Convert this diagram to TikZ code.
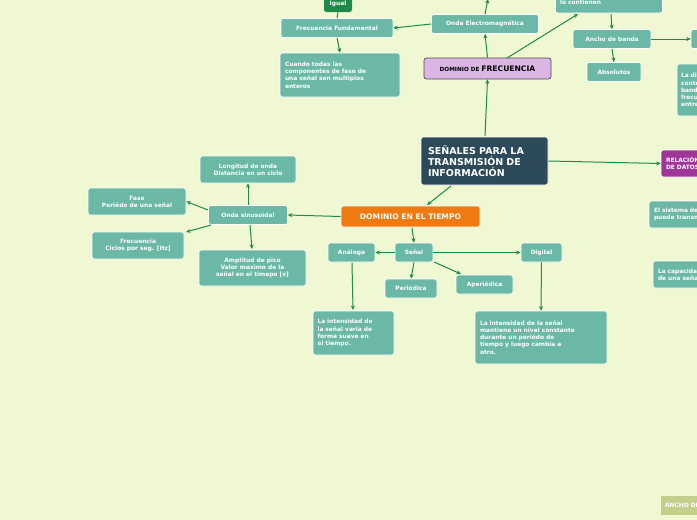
\documentclass[tikz,border=0pt]{standalone}
\usepackage{fontspec}
\setmainfont{DejaVu Sans}
\usetikzlibrary{arrows.meta}
\definecolor{bg}{HTML}{EFF8D2}
\definecolor{teal}{HTML}{6BB8A6}
\definecolor{arr}{HTML}{1E8A4A}
\definecolor{mainc}{HTML}{2D4A5A}
\definecolor{orng}{HTML}{EF7A12}
\definecolor{purp}{HTML}{DBB5E3}
\definecolor{mag}{HTML}{A0359A}
\definecolor{olive}{HTML}{C5CF8B}
\tikzset{
 bx/.style={draw=white,line width=0.6pt,fill=teal,rounded corners=2.5pt,text=white,font=\bfseries\fontsize{5.9}{7.2}\selectfont,inner sep=0pt,align=center},
 ar/.style={draw=arr,line width=1pt,-{Stealth[length=4.5pt,width=4pt]}},
 ln/.style={draw=arr,line width=1pt},
}
\newcommand{\bxn}[6]{\node[bx,#6,minimum width=#4pt,minimum height=#5pt] (#1) at (#2,#3)}
\begin{document}
\begin{tikzpicture}[x=1pt,y=-1pt]
\useasboundingbox (0,0) rectangle (697,520);
\clip (0,0) rectangle (697,520);
\fill[bg] (0,0) rectangle (697,520);
% top area
\bxn{igual}{338}{4}{28}{16}{fill=arr,draw=none}{Igual};
\bxn{ff}{337}{28}{112}{19}{}{Frecuencia Fundamental};
\bxn{cuando}{340}{75}{120}{44}{text width=110pt,align=left}{Cuando todas las\\componentes de fase de\\una señal son multiplos\\enteros};
\bxn{oe}{485}{24}{107}{19}{}{Onda Electromagnética};
\coordinate (oetop) at (488,-1);
\bxn{lc}{609}{-1}{107}{28}{text width=98pt,align=left}{Componentes que\\lo contienen};
\bxn{ab}{612}{39}{78}{19}{}{Ancho de banda};
\bxn{abs}{614}{72}{54}{19}{}{Absolutos};
\bxn{rb}{720}{39}{58}{19}{}{Ancho};
\bxn{lcc}{740}{90}{126}{52}{text width=118pt,align=left}{La diferencia\\contenida en la\\banda de\\frecuencias\\entre};
\node[draw=black!70,line width=0.7pt,fill=purp,rounded corners=2.5pt,minimum width=127pt,minimum height=21pt,inner sep=0pt,font=\bfseries] (df) at (487.5,68.5) {\fontsize{5.7}{6}\selectfont DOMINIO DE \fontsize{7.6}{8}\selectfont FRECUENCIA};
% main
\node[draw=white,line width=0.6pt,fill=mainc,rounded corners=2.5pt,minimum width=127pt,minimum height=48pt,inner sep=0pt,text=white,font=\bfseries\fontsize{9.5}{11}\selectfont,align=left,text width=113pt] (main) at (484.5,161) {SEÑALES PARA LA\\TRANSMISIÓN DE\\INFORMACIÓN};
\node[draw=white,line width=0.6pt,fill=mag,rounded corners=2.5pt,minimum width=70pt,minimum height=27pt,inner sep=0pt,text=white,font=\bfseries\fontsize{5.9}{7.2}\selectfont,align=left,text width=60pt] (rel) at (696,163.5) {RELACIÓN DE\\DE DATOS};
\bxn{sis}{700}{214.5}{102}{27}{text width=92pt,align=left}{El sistema de\\puede transmitir};
\bxn{cap}{704}{274.5}{102}{27}{text width=92pt,align=left}{La capacidad\\de una señal};
\node[fill=olive,minimum width=72pt,minimum height=19pt,inner sep=0pt,text=white,font=\bfseries\fontsize{5.9}{7.2}\selectfont,text width=64pt,align=left] (anch) at (697,505.5) {ANCHO DE BANDA};
% tiempo
\node[draw=white,line width=0.6pt,fill=orng,rounded corners=2.5pt,minimum width=139pt,minimum height=21pt,inner sep=0pt,text=white,font=\bfseries\fontsize{7.6}{8}\selectfont] (dt) at (410.5,216.5) {DOMINIO EN EL TIEMPO};
\bxn{os}{248}{215}{79}{19}{}{Onda sinusoidal};
\bxn{lo}{248}{169.5}{96}{27}{}{Longitud de onda\\Distancia en un ciclo};
\bxn{fa}{137}{201.5}{98}{27}{}{Fase\\Periódo de una señal};
\bxn{fr}{138}{245.5}{92}{27}{}{Frecuencia\\Ciclos por seg. [Hz]};
\bxn{am}{252.5}{268}{107}{36}{}{Amplitud de pico\\Valor maximo de la\\señal en el timepo [v]};
\bxn{an}{351.5}{252.5}{47}{19}{}{Análoga};
\bxn{se}{414}{252.5}{38}{19}{}{Señal};
\bxn{di}{541.5}{252.5}{41}{19}{}{Digital};
\bxn{pe}{411}{288.5}{52}{19}{}{Periódica};
\bxn{ap}{484.5}{284.5}{57}{19}{}{Aperiódica};
\bxn{ant}{353.5}{333}{81}{44}{text width=72pt,align=left}{La intensidad de\\la señal varia de\\forma suave en\\el tiempo.};
\bxn{dit}{541}{337.5}{132}{53}{text width=122pt,align=left}{La intensidad de la señal\\mantiene un nivel constante\\durante un periódo de\\tiempo y luego cambia a\\otro.};
% connectors
\draw[ar] (485,136) -- (df.south);
\draw[ar] (main.east) -- (rel.west);
\draw[ar] (451,186) -- (427,205);
\draw[ar] (df.north) -- (oe.south);
\draw[ar] (507,58) -- (578,14);
\draw[ar] (oe.west) -- (ff.east);
\draw[ar] (oe.north) -- (oetop);
\draw[ln] (igual.south) -- (ff.north);
\draw[ar] (ff.south) -- (cuando.north);
\draw[ar] (611,14) -- (ab.north);
\draw[ar] (ab.south) -- (abs.north);
\draw[ar] (ab.east) -- (rb.west);
\draw[ar] (dt.west) -- (os.east);
\draw[ar] (os.north) -- (lo.south);
\draw[ar] (208,210) -- (fa.east);
\draw[ar] (211,225) -- (186,232);
\draw[ar] (250,225) -- (252,249);
\draw[ar] (412,228) -- (se.north);
\draw[ar] (se.west) -- (an.east);
\draw[ar] (se.east) -- (di.west);
\draw[ar] (se.south) -- (pe.north);
\draw[ar] (434,262) -- (461,274);
\draw[ar] (352,263) -- (353,310);
\draw[ar] (di.south) -- (dit.north);
\end{tikzpicture}
\end{document}
